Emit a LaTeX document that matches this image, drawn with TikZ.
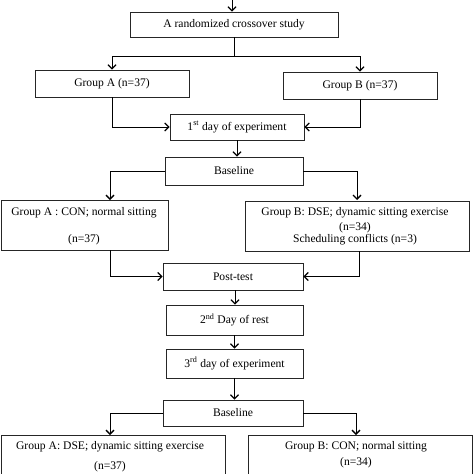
\documentclass[tikz,border=0pt]{standalone}
\usepackage{fontspec}
\setmainfont{Liberation Serif}
\usetikzlibrary{arrows.meta}
\begin{document}
\begin{tikzpicture}[x=1pt,y=-1pt,
  box/.style={draw=black!85,line width=0.7pt,inner sep=0pt,minimum width=#1},
  txt/.style={inner sep=0pt,font=\fontsize{11.6}{13}\selectfont},
  arr/.style={draw=black,line width=0.9pt,-{Straight Barb[length=4pt,width=8pt,line width=1.3pt]}},
  ln/.style={draw=black,line width=0.9pt}]
\useasboundingbox (0,0) rectangle (474,474);
% boxes
\node[box=208pt,minimum height=25pt,txt] (study) at (234,24.5) {A randomized crossover study};
\node[box=154pt,minimum height=27pt,txt] (gA) at (112,83.5) {Group A (n=37)};
\node[box=154pt,minimum height=27pt,txt] (gB) at (360,85.5) {Group B (n=37)};
\node[box=134pt,minimum height=26pt,txt] (day1) at (237,127) {1\textsuperscript{st} day of experiment};
\node[box=138pt,minimum height=28pt,txt] (base1) at (234,171) {Baseline};
\node[box=167pt,minimum height=50pt] (aCON) at (84.5,225) {};
\node[txt] (aCONt1) at (84,213) {Group A : CON; normal sitting};
\node[txt] (aCONt2) at (84,240) {(n=37)};
\node[box=224pt,minimum height=50pt] (bDSE) at (357,226) {};
\node[txt] (bDSEt1) at (355,213) {Group B: DSE; dynamic sitting exercise};
\node[txt] (bDSEt2) at (355,227.5) {(n=34)};
\node[txt] (bDSEt3) at (355,239.5) {Scheduling conflicts (n=3)};
\node[box=140pt,minimum height=27pt,txt] (post) at (233,276.5) {Post-test};
\node[box=137pt,minimum height=30pt,txt] (day2) at (234.5,320) {2\textsuperscript{nd} Day of rest};
\node[box=137pt,minimum height=29pt,txt] (day3) at (234.5,363.5) {3\textsuperscript{rd} day of experiment};
\node[box=140pt,minimum height=26pt,txt] (base2) at (233,413) {Baseline};
\node[box=224pt,minimum height=50pt] (aDSE) at (113,460) {};
\node[txt] (aDSEt1) at (110,447) {Group A: DSE; dynamic sitting exercise};
\node[txt] (aDSEt2) at (110,467) {(n=37)};
\node[box=224pt,minimum height=50pt] (bCON) at (360,460) {};
\node[txt] (bCONt1) at (356,447) {Group B: CON; normal sitting};
\node[txt] (bCONt2) at (356,463) {(n=34)};
% coordinates
\coordinate (top) at (232,-2);
\coordinate (split) at (234,56);
\coordinate (aIn) at (110,200);
\coordinate (bIn) at (357,200);
\coordinate (aOut) at (110,250);
\coordinate (bOut) at (359,251);
\coordinate (aIn2) at (110,435);
\coordinate (bIn2) at (356,435);
% connectors
\draw[arr] (top) -- (top |- study.north);
\draw[ln] (study.south) -- (split);
\draw[arr] (split) -| (gA.north);
\draw[arr] (split) -| (gB.north);
\draw[arr] (gA.south) |- (day1.west);
\draw[arr] (gB.south) |- (day1.east);
\draw[arr] (day1.south) -- (day1.south |- base1.north);
\draw[arr] (base1.west) -| (aIn);
\draw[arr] (base1.east) -| (bIn);
\draw[arr] (aOut) |- (post.west);
\draw[arr] (bOut) |- (post.east);
\draw[arr] (235,0 |- post.south) -- (235,0 |- day2.north);
\draw[arr] (day2.south) -- (day2.south |- day3.north);
\draw[arr] (day3.south) -- (day3.south |- base2.north);
\draw[arr] (base2.west) -| (aIn2);
\draw[arr] (base2.east) -| (bIn2);
\end{tikzpicture}
\end{document}
